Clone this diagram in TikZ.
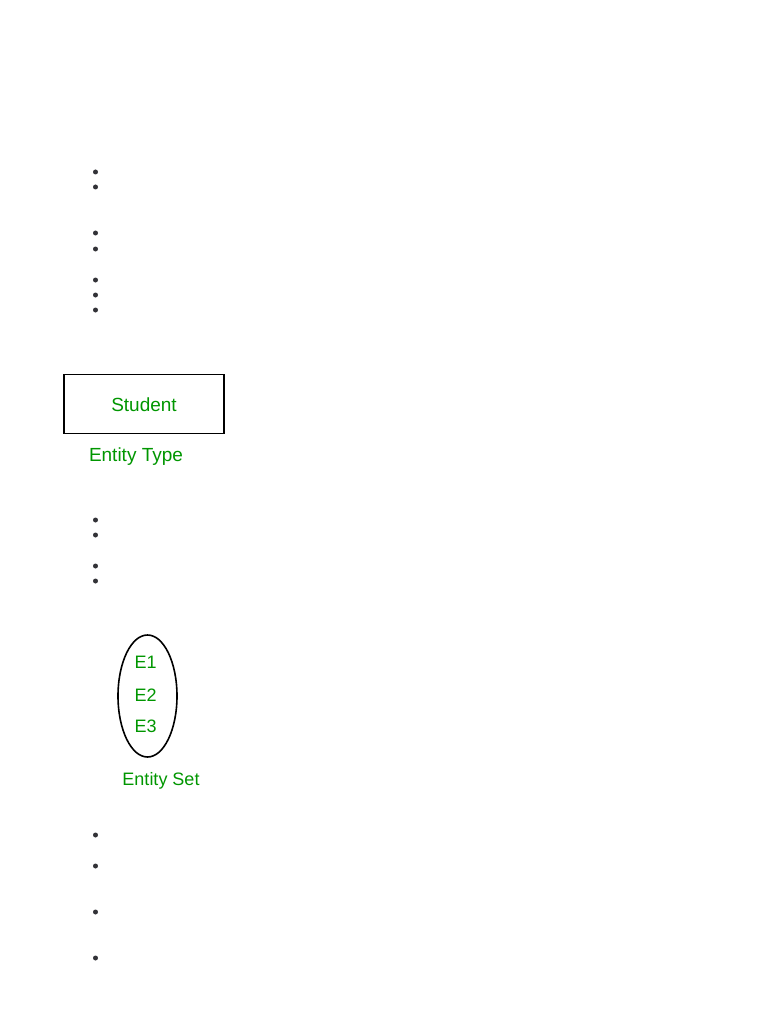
\documentclass[tikz,border=0pt]{standalone}
\usepackage{fontspec}
\setmainfont{Liberation Sans}
\definecolor{ergreen}{RGB}{0,150,0}
\definecolor{bulletgray}{RGB}{50,50,55}
\tikzset{
  bulletdot/.style={fill=bulletgray, circle, inner sep=0pt, minimum size=5pt},
  entitybox/.style={draw=black, line width=1.8pt, minimum width=160pt, minimum height=59pt, inner sep=0pt},
  setellipse/.style={draw=black, line width=1.6pt, ellipse, minimum width=59pt, minimum height=122pt, inner sep=0pt},
  lbl/.style={text=ergreen, inner sep=0pt, font=\fontsize{19}{22}\selectfont},
  slbl/.style={text=ergreen, inner sep=0pt, font=\fontsize{18}{21}\selectfont},
}
\usetikzlibrary{shapes.geometric}
\begin{document}
\begin{tikzpicture}[x=1pt,y=-1pt]
\useasboundingbox (0,0) rectangle (768,1024);
% bullets
\foreach \i/\y in {1/172,2/187,3/233,4/249,5/280,6/295,7/310,8/520,9/535,10/566,11/581,12/835,13/866,14/912,15/958}{
  \node[bulletdot] (b\i) at (95.5,\y) {};
}
% entity type
\node[entitybox] (student) at (144,404) {};
\node[lbl] (studentlbl) at (144,404.5) {Student};
\node[lbl] (etype) at (136,457) {Entity Type};
% entity set
\node[setellipse] (eset) at (147.5,696) {};
\node[slbl, anchor=west] (e1) at (134.5,662) {E1};
\node[slbl, anchor=west] (e2) at (134.5,695) {E2};
\node[slbl, anchor=west] (e3) at (134.5,726) {E3};
\node[slbl] (esetlbl) at (161,780.5) {Entity Set};
\end{tikzpicture}
\end{document}
